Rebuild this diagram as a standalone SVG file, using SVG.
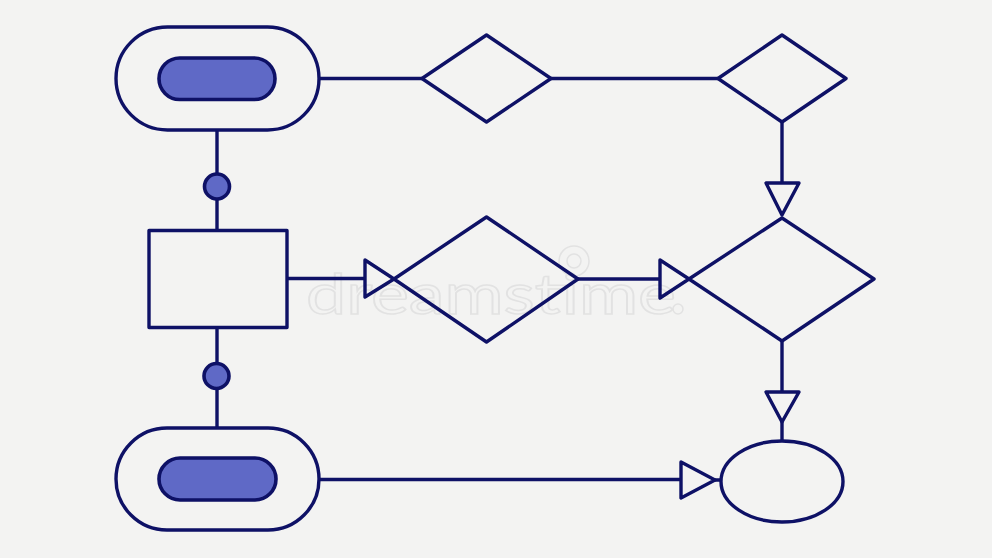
<svg xmlns="http://www.w3.org/2000/svg" width="992" height="558" viewBox="0 0 992 558">
<style>
.s{fill:#f3f3f2;stroke:#0e1166;stroke-width:3.4;stroke-linejoin:round}
.f{fill:#5f69c6;stroke:#0e1166;stroke-width:3.6}
.t{fill:none;stroke:#0e1166;stroke-width:3.4;stroke-linejoin:round}
.c{fill:none;stroke:#0e1166;stroke-width:3.4}
.w{font-family:"Lato","Liberation Sans",sans-serif;font-size:56px;fill:none;stroke:#e2e2e2;stroke-width:1.5}
.m{fill:none;stroke:#e2e2e2;stroke-width:1.5}
</style>
<rect width="992" height="558" fill="#f3f3f2"/>
<text class="w" x="306" y="314" textLength="370" lengthAdjust="spacingAndGlyphs">dreamstime</text>
<circle class="m" cx="574" cy="261" r="15"/>
<circle class="m" cx="574" cy="261" r="7"/>
<circle class="m" cx="678" cy="309" r="5"/>
<g id="connectors">
<path class="c" d="M319 78.500H422M551 78.500H718"/>
<path class="c" d="M782 122V183"/>
<path class="c" d="M217 130V174M217 199V230"/>
<path class="c" d="M217 328V363M217 389V428"/>
<path class="c" d="M287 278.500H365"/>
<path class="c" d="M578 279H660"/>
<path class="c" d="M782 341V392M782 421V441"/>
<path class="c" d="M319 479.500H681M714 480H721"/>
</g>
<g id="start"><rect class="s" x="116" y="27" width="203" height="103" rx="51.500"/><rect class="f" x="159" y="58" width="116" height="41.500" rx="20.700"/></g>
<g id="end-terminal"><rect class="s" x="116" y="428" width="203" height="102" rx="51"/><rect class="f" x="159" y="458" width="117" height="42" rx="21"/></g>
<g id="dot-top"><circle class="f" cx="217" cy="186.500" r="12.500"/></g>
<g id="dot-bottom"><circle class="f" cx="216.500" cy="376" r="12.500"/></g>
<g id="process"><rect class="s" x="149" y="230.500" width="138" height="97"/></g>
<g id="decision-top-1"><path class="s" d="M486.500 35L551 78.500L486.500 122L422 78.500Z"/></g>
<g id="decision-top-2"><path class="s" d="M782 35L846 78.500L782 122L718 78.500Z"/></g>
<g id="decision-mid-1"><path class="t" d="M486.500 217L578 279L486.500 342L394 279Z"/></g>
<g id="decision-mid-2"><path class="t" d="M782 218L874 279L782 341L689 279Z"/></g>
<g id="terminal-oval"><ellipse class="s" cx="782" cy="481.500" rx="61" ry="40.500"/></g>
<g id="arrowheads">
<path class="t" d="M365 260L394 279L365 297Z"/>
<path class="t" d="M660 260L689 279L660 298Z"/>
<path class="t" d="M766 183H799L782 215Z"/>
<path class="t" d="M766 392H799L782 422Z"/>
<path class="t" d="M681 462L715 480L681 498Z"/>
</g>
</svg>
